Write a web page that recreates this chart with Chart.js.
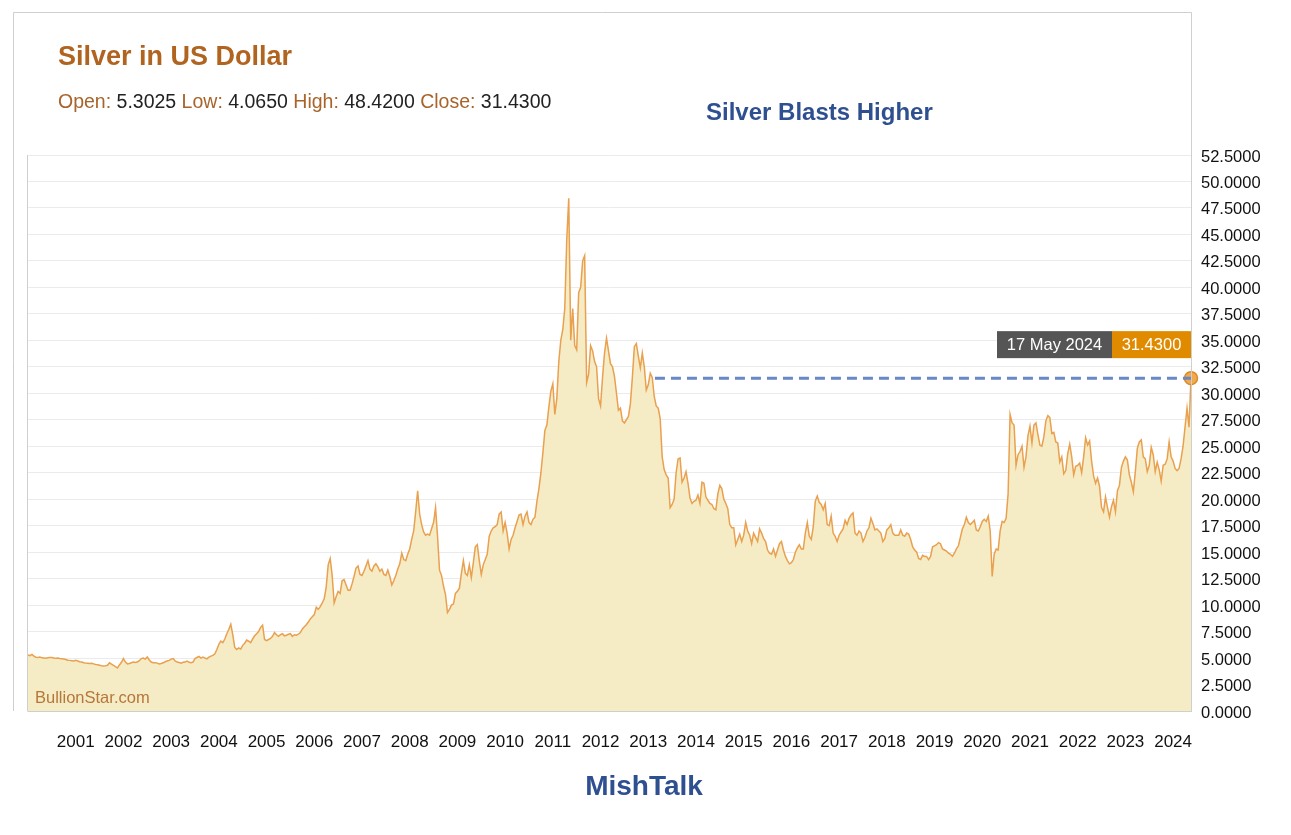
<!DOCTYPE html>
<html lang="en">
<head>
<meta charset="UTF-8">
<title>Silver in US Dollar</title>
<script src="https://cdn.jsdelivr.net/npm/chart.js"></script>
<style>
  body { margin: 0; background: #fff; font-family: "Liberation Sans", Arial, sans-serif; }
  .wrap { position: relative; width: 1291px; height: 835px; overflow: hidden; }
  canvas { position: absolute; left: 0; top: 0; }
  .title { position: absolute; left: 58px; top: 43px; font-size: 27px; line-height: 27px; font-weight: bold; color: #b0641f; }
  .ohlc { position: absolute; left: 58px; top: 91px; font-size: 19.5px; line-height: 20px; color: #222; }
  .ohlc span { color: #a8642a; }
  .note { position: absolute; left: 706px; top: 100px; font-size: 24px; line-height: 24px; font-weight: bold; color: #2f5090; }
  .brand { position: absolute; left: 494px; width: 300px; top: 772px; text-align: center; font-size: 28px; line-height: 28px; font-weight: bold; color: #2f5090; }
  .source { position: absolute; left: 35px; top: 689px; font-size: 16.5px; line-height: 17px; color: #b5773a; }
</style>
</head>
<body>
<div class="wrap">
  <canvas id="silverChart" width="1291" height="835"></canvas>
  <div class="title">Silver in US Dollar</div>
  <div class="ohlc" id="ohlc"></div>
  <div class="note">Silver Blasts Higher</div>
  <div class="source">BullionStar.com</div>
  <div class="brand">MishTalk</div>
</div>
<script>
// price series: two readings per month, starting Jan 2000, last one is 17 May 2024
const startYear = 2000;
const stepsPerYear = 24;
const prices = [
  // 2000
  5.30,5.22,5.35,5.18,5.08,5.05,5.10,5.02,5.00,4.98,5.02,5.06,5.05,5.00,4.98,5.00,4.96,4.93,4.90,4.86,4.80,4.78,4.75,4.72,
  // 2001
  4.78,4.72,4.65,4.62,4.55,4.52,4.50,4.48,4.50,4.45,4.40,4.36,4.32,4.28,4.26,4.28,4.32,4.55,4.42,4.30,4.18,4.07,4.35,4.60,
  // 2002
  4.95,4.62,4.45,4.48,4.55,4.62,4.58,4.62,4.75,4.95,5.00,4.90,5.10,4.82,4.62,4.55,4.55,4.52,4.45,4.48,4.55,4.65,4.72,4.78,
  // 2003
  4.90,4.95,4.72,4.62,4.58,4.52,4.60,4.62,4.72,4.60,4.55,4.62,4.95,5.05,5.15,5.00,5.10,5.00,4.92,5.08,5.18,5.25,5.40,5.80,
  // 2004
  6.30,6.60,6.45,6.80,7.30,7.70,8.20,7.20,6.00,5.80,5.95,5.85,6.20,6.40,6.70,6.60,6.45,6.80,7.10,7.30,7.50,7.90,8.10,6.75,
  // 2005
  6.65,6.75,6.85,7.05,7.40,7.20,7.05,7.20,7.30,7.10,7.15,7.25,7.30,7.05,7.20,7.15,7.25,7.40,7.75,7.95,8.15,8.40,8.70,8.90,
  // 2006
  9.10,9.80,9.60,9.85,10.20,10.60,11.70,13.80,14.40,12.80,10.20,10.80,11.30,11.10,12.30,12.40,11.90,11.40,11.40,12.00,12.70,13.50,13.70,12.90,
  // 2007
  12.80,13.20,13.70,14.20,13.40,13.20,13.70,13.90,13.60,13.20,13.40,12.90,12.80,13.30,12.70,11.90,12.30,12.80,13.40,13.90,14.90,14.30,14.20,14.80,
  // 2008
  15.30,16.20,17.00,18.80,20.80,18.60,17.60,16.90,16.60,16.70,16.60,17.20,17.80,19.20,16.50,13.30,12.80,11.80,11.00,9.30,9.60,10.00,10.10,11.10,
  // 2009
  11.30,11.60,13.00,14.20,13.00,12.80,13.80,12.60,14.00,15.50,15.70,14.20,12.90,13.80,14.30,14.80,16.50,17.00,17.30,17.40,17.60,18.60,18.80,17.00,
  // 2010
  17.80,16.80,15.30,16.20,16.60,17.30,17.90,18.50,18.60,17.60,18.40,18.80,17.80,17.60,18.10,18.30,19.80,21.00,22.50,24.40,26.50,27.00,28.70,30.20,
  // 2011
  30.90,28.00,29.50,33.00,35.00,36.00,38.00,44.50,48.42,35.00,38.00,34.50,34.10,39.50,40.00,42.50,43.00,31.00,31.80,34.50,34.00,33.00,32.50,29.50,
  // 2012
  28.80,31.50,33.80,35.20,34.00,32.80,32.50,31.60,30.00,28.40,28.60,27.40,27.20,27.50,27.80,29.00,31.50,34.40,34.70,33.50,32.40,33.80,32.50,30.30,
  // 2013
  30.80,31.90,31.50,29.70,28.80,28.60,27.60,24.00,22.80,22.30,22.00,19.20,19.50,20.00,22.50,23.80,23.90,21.60,22.00,22.60,21.50,20.10,19.60,19.80,
  // 2014
  19.90,20.40,19.60,21.60,21.50,20.20,19.90,19.60,19.50,19.10,19.00,20.50,21.30,21.00,20.00,19.60,19.10,17.60,17.30,17.30,15.70,16.20,16.70,16.00,
  // 2015
  16.60,17.80,17.00,16.60,15.80,16.80,16.40,16.00,17.20,16.80,16.30,16.00,15.20,14.90,14.80,15.30,14.60,15.20,15.80,16.00,15.20,14.60,14.20,13.90,
  // 2016
  14.00,14.30,15.00,15.40,15.70,15.30,15.30,16.80,17.80,16.50,16.20,17.40,19.80,20.30,19.70,19.50,19.00,19.60,17.60,17.50,18.40,16.80,16.50,16.00,
  // 2017
  16.60,16.90,17.20,18.00,17.60,18.20,18.50,18.70,16.80,16.60,17.00,16.80,16.00,16.40,17.00,17.30,18.20,17.70,17.10,17.20,17.00,16.80,16.00,16.30,
  // 2018
  17.10,17.30,17.60,16.80,16.60,16.60,16.60,17.10,16.60,16.50,16.80,16.70,16.20,15.50,15.20,15.00,14.40,14.30,14.70,14.60,14.60,14.30,14.60,15.50,
  // 2019
  15.60,15.70,15.90,15.80,15.30,15.20,15.10,14.90,14.80,14.60,14.90,15.30,15.60,16.40,17.20,17.60,18.30,17.80,17.60,17.80,18.00,17.10,17.00,17.40,
  // 2020
  17.90,18.10,17.90,18.40,17.00,12.70,14.80,15.30,15.20,17.00,17.90,17.80,18.20,20.50,28.00,27.20,27.00,23.20,24.20,24.50,25.00,23.00,24.00,26.00,
  // 2021
  26.90,25.30,27.00,27.20,26.10,25.10,25.00,25.90,27.40,27.90,27.70,26.20,26.30,25.40,25.30,23.50,24.00,22.40,22.70,24.30,25.20,24.00,22.30,23.10,
  // 2022
  23.20,23.40,22.50,24.00,25.80,25.10,25.50,23.60,22.20,21.50,22.00,21.20,19.20,18.80,20.20,19.20,18.30,19.30,19.90,18.80,20.80,21.30,23.00,23.60,
  // 2023
  24.00,23.70,22.30,21.60,20.70,22.60,24.80,25.40,25.60,24.00,23.80,22.60,23.20,24.90,24.20,22.60,23.50,22.80,21.70,23.20,23.30,23.80,25.40,24.00,
  // 2024 (Jan .. 17 May)
  23.60,22.90,22.70,22.90,23.80,25.00,26.80,28.60,26.80,31.43
];

const tickYears = [2001,2002,2003,2004,2005,2006,2007,2008,2009,2010,2011,2012,
                   2013,2014,2015,2016,2017,2018,2019,2020,2021,2022,2023,2024];
const ohlcNames = ['Open', 'Low', 'High', 'Close'];
const ohlcValues = [5.3025, 4.0650, 48.4200, 31.4300];
const lastDateLabel = '17 May 2024';
const closeLineStart = 2013.14;   // where the dashed close level begins

const lastDate = startYear + (prices.length - 1) / stepsPerYear;
const closeValue = ohlcValues[3];

document.getElementById('ohlc').innerHTML = ohlcNames
  .map((n, i) => '<span>' + n + ':</span> ' + ohlcValues[i].toFixed(4))
  .join(' ');

const pricePoints = prices.map((v, i) => ({ x: startYear + i / stepsPerYear, y: v }));

const frame = {
  id: 'frame',
  afterDraw(chart) {
    const { ctx, chartArea, scales } = chart;
    ctx.save();
    ctx.strokeStyle = '#cfcfcf';
    ctx.lineWidth = 1;
    ctx.beginPath();
    ctx.moveTo(13.5, chartArea.bottom);
    ctx.lineTo(13.5, 12.5);
    ctx.lineTo(chartArea.right + 0.5, 12.5);
    ctx.lineTo(chartArea.right + 0.5, chartArea.bottom);
    ctx.moveTo(chartArea.left - 0.5, chartArea.top);
    ctx.lineTo(chartArea.left - 0.5, chartArea.bottom + 0.5);
    ctx.stroke();

    // date / close label above the last point
    const px = scales.x.getPixelForValue(lastDate);
    const py = scales.y.getPixelForValue(closeValue);
    const top = py - 47, h = 27;
    ctx.font = '16.5px "Liberation Sans", Arial, sans-serif';
    ctx.textBaseline = 'middle';
    ctx.textAlign = 'center';
    ctx.fillStyle = '#e08a00';
    ctx.fillRect(px - 79, top, 79, h);
    ctx.fillStyle = '#555555';
    ctx.fillRect(px - 194, top, 115, h);
    ctx.fillStyle = '#ffffff';
    ctx.fillText(closeValue.toFixed(4), px - 39.5, top + h / 2 + 1);
    ctx.fillText(lastDateLabel, px - 136.5, top + h / 2 + 1);
    ctx.restore();
  }
};

new Chart(document.getElementById('silverChart'), {
  type: 'line',
  data: {
    datasets: [
      {
        data: [{ x: closeLineStart, y: closeValue }, { x: lastDate, y: closeValue }],
        borderColor: '#6a88c4',
        borderWidth: 3,
        borderDash: [10, 6],
        pointRadius: 0,
        fill: false,
        order: 0
      },
      {
        data: [{ x: lastDate, y: closeValue }],
        showLine: false,
        clip: false,
        pointRadius: 6.5,
        pointBackgroundColor: '#f2a94c',
        pointBorderColor: '#d98a2a',
        pointBorderWidth: 1.5,
        order: 1
      },
      {
        data: pricePoints,
        borderColor: '#e9a04f',
        borderWidth: 1.5,
        backgroundColor: '#f5ecc6',
        fill: 'origin',
        pointRadius: 0,
        tension: 0,
        order: 2
      }
    ]
  },
  options: {
    responsive: false,
    animation: false,
    layout: { padding: { left: 28, top: 155, right: 0, bottom: 0 } },
    plugins: { legend: { display: false }, tooltip: { enabled: false } },
    scales: {
      x: {
        type: 'linear',
        min: startYear,
        max: lastDate,
        afterBuildTicks: s => { s.ticks = tickYears.map(v => ({ value: v })); },
        afterFit: s => { s.height = 124; },
        grid: { display: false, drawTicks: false },
        border: { color: '#cfcfcf' },
        ticks: {
          padding: 21,
          maxRotation: 0,
          autoSkip: false,
          color: '#111',
          font: { family: '"Liberation Sans", Arial, sans-serif', size: 17 },
          callback: v => String(v)
        }
      },
      y: {
        position: 'right',
        min: 0,
        max: 52.5,
        afterFit: s => { s.width = 100; },
        grid: { color: '#ebebeb', drawTicks: false },
        border: { display: false },
        ticks: {
          stepSize: 2.5,
          padding: 10,
          labelOffset: 2,
          color: '#111',
          font: { family: '"Liberation Sans", Arial, sans-serif', size: 16.5 },
          callback: v => v.toFixed(4)
        }
      }
    }
  },
  plugins: [frame]
});
</script>
</body>
</html>
